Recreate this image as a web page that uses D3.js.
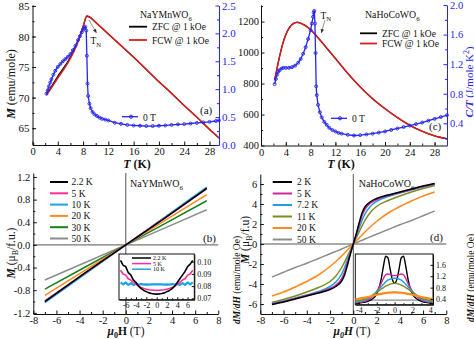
<!DOCTYPE html>
<html>
<head>
<meta charset="utf-8">
<script src="https://cdn.jsdelivr.net/npm/d3@7"></script>
<style>
	body { margin: 0; background: #fff; }
	svg { display: block; }
</style>
</head>
<body>
<svg id="fig" width="474" height="339"></svg>
<script>
// ---- (a) NaYMnWO6 : M(T) at 1 kOe and C/T at 0 T ----
const aTemp = [2.2, 3, 4, 5, 6, 7, 8, 8.6, 9, 10, 12, 14, 16, 18, 20, 22, 24, 26, 28, 29.5];
const aFcw = [70.4, 71.6, 73.2, 74.7, 76.4, 78.6, 81.6, 83.4, 83.2, 82.3, 80.4, 78.5, 76.6, 74.6, 72.6, 70.7, 68.7, 66.8, 64.8, 63.4];
const aZfc = [70.5, 71.8, 73.5, 75.0, 76.6, 78.7, 81.6, 83.3, 83.2, 82.3, 80.4, 78.5, 76.6, 74.6, 72.6, 70.7, 68.7, 66.8, 64.8, 63.4];
const aCpTemp = [2.2, 2.4, 2.6, 2.8, 3.0, 3.3, 3.6, 4.0, 4.4, 4.8, 5.2, 5.6, 6.0, 6.4, 6.8, 7.2, 7.5, 7.8, 8.0, 8.2,
	8.35, 8.5, 8.6, 8.7, 8.8, 9.0, 9.2, 9.5, 9.8, 10.2, 10.6, 11, 11.5, 12, 13, 14, 15, 16, 17, 18,
	19, 20, 21, 22, 23, 24, 25, 26, 27, 28, 29, 29.5];
const aCpT = [0.92, 0.98, 1.05, 1.12, 1.18, 1.26, 1.33, 1.40, 1.45, 1.50, 1.54, 1.58, 1.63, 1.70, 1.78, 1.88, 1.95, 2.02, 2.07, 2.10,
	2.12, 2.05, 1.60, 1.10, 0.88, 0.74, 0.66, 0.59, 0.55, 0.52, 0.49, 0.47, 0.455, 0.44, 0.40, 0.38, 0.36, 0.35, 0.345, 0.34,
	0.34, 0.345, 0.35, 0.36, 0.37, 0.375, 0.385, 0.395, 0.405, 0.415, 0.43, 0.44];

// ---- (c) NaHoCoWO6 ----
const cTemp = [2.2, 2.5, 3, 3.5, 4, 4.5, 5, 5.8, 6.5, 7, 8, 9, 10, 11, 12, 14, 16, 18, 20, 22, 24, 26, 28, 30];
const cFcw = [820, 880, 975, 1055, 1115, 1155, 1180, 1195, 1188, 1178, 1148, 1105, 1058, 1010, 962, 865, 778, 702, 638, 580, 530, 492, 462, 443];
const cZfc = [822, 882, 976, 1056, 1116, 1156, 1181, 1195, 1188, 1178, 1148, 1105, 1058, 1010, 962, 865, 778, 702, 638, 580, 530, 492, 462, 443];
const cCpTemp = [2.2, 2.4, 2.6, 2.8, 3.0, 3.3, 3.6, 4.0, 4.5, 5.0, 5.5, 6.0, 6.4, 6.8, 7.2, 7.6, 8.0, 8.2, 8.4, 8.5,
	8.6, 8.7, 8.8, 8.9, 9.0, 9.2, 9.5, 9.8, 10.2, 10.6, 11, 11.5, 12, 12.5, 13, 14, 15, 16, 17, 18,
	19, 20, 21, 22, 23, 24, 25, 26, 27, 28, 29, 30];
const cCpT = [0.93, 1.00, 1.06, 1.10, 1.12, 1.14, 1.15, 1.15, 1.15, 1.16, 1.18, 1.22, 1.27, 1.34, 1.43, 1.54, 1.66, 1.75, 1.84, 1.90,
	1.92, 1.75, 1.35, 0.90, 0.78, 0.65, 0.55, 0.48, 0.42, 0.38, 0.34, 0.31, 0.29, 0.27, 0.26, 0.245, 0.235, 0.24, 0.25, 0.26,
	0.275, 0.29, 0.31, 0.33, 0.35, 0.37, 0.39, 0.41, 0.435, 0.46, 0.485, 0.51];

// ---- (b) NaYMnWO6 : M(H) ----
const bLabels = ["2.2 K", "5 K", "10 K", "20 K", "30 K", "50 K"];
const bField = [-7, -3.5, 0, 3.5, 7];
const bMoment = [
	[-1.00, -0.49, 0, 0.49, 1.00],
	[-0.99, -0.495, 0, 0.495, 0.99],
	[-1.02, -0.51, 0, 0.51, 1.02],
	[-0.89, -0.445, 0, 0.445, 0.89],
	[-0.78, -0.39, 0, 0.39, 0.78],
	[-0.62, -0.31, 0, 0.31, 0.62],
];
// inset: dM/dH
const biLabels = ["2.2 K", "5 K", "10 K"];
const biField = [-7, -6.5, -6, -5.5, -5, -4.5, -4, -3.5, -3, -2.5, -2, -1.5, -1, -0.5, 0,
	0.5, 1, 1.5, 2, 2.5, 3, 3.5, 4, 4.5, 5, 5.5, 6, 6.5, 7];
const biDeriv = [
	[0.101, 0.097, 0.096, 0.091, 0.089, 0.085, 0.083, 0.080, 0.078, 0.0765, 0.0755, 0.0745, 0.074, 0.0737, 0.0735,
		0.0737, 0.074, 0.0745, 0.0755, 0.0765, 0.078, 0.080, 0.083, 0.086, 0.089, 0.092, 0.096, 0.098, 0.101],
	[0.093, 0.090, 0.089, 0.086, 0.085, 0.083, 0.0815, 0.080, 0.079, 0.078, 0.0775, 0.077, 0.0768, 0.0766, 0.0765,
		0.0766, 0.0768, 0.077, 0.0775, 0.078, 0.079, 0.080, 0.0815, 0.083, 0.085, 0.086, 0.089, 0.090, 0.093],
	[0.083, 0.0815, 0.083, 0.081, 0.0825, 0.081, 0.082, 0.0812, 0.0818, 0.0812, 0.0815, 0.0813, 0.0815, 0.0814, 0.0815,
		0.0814, 0.0815, 0.0813, 0.0815, 0.0812, 0.0818, 0.0812, 0.082, 0.081, 0.0825, 0.081, 0.083, 0.0815, 0.083],
];

// ---- (d) NaHoCoWO6 : M(H), positive branch (M is odd in H) ----
const dLabels = ["2 K", "5 K", "7.2 K", "11 K", "20 K", "50 K"];
const dField = [0, 0.25, 0.5, 0.75, 1, 1.5, 2, 3, 4, 5, 6, 7];
const dMoment = [
	[0, 1.0, 2.1, 3.1, 3.7, 4.25, 4.55, 4.9, 5.2, 5.5, 5.8, 6.05],
	[0, 0.9, 1.9, 2.8, 3.45, 4.1, 4.45, 4.85, 5.15, 5.45, 5.75, 6.0],
	[0, 0.75, 1.55, 2.35, 3.0, 3.8, 4.25, 4.75, 5.1, 5.4, 5.7, 5.95],
	[0, 0.6, 1.2, 1.8, 2.35, 3.2, 3.75, 4.35, 4.8, 5.2, 5.55, 5.85],
	[0, 0.3, 0.6, 0.9, 1.2, 1.75, 2.25, 3.1, 3.75, 4.3, 4.8, 5.2],
	[0, 0.12, 0.25, 0.37, 0.5, 0.74, 0.98, 1.45, 1.92, 2.35, 2.82, 3.3],
];
// inset: dM/dH, positive branch (even in H)
const diField = [0, 0.25, 0.5, 0.75, 1.0, 1.25, 1.5, 1.75, 2.0, 2.5, 3.0, 3.5, 4.0, 4.4];
const diDeriv = [
	[0.95, 1.08, 1.45, 1.85, 1.90, 1.55, 1.10, 0.78, 0.58, 0.40, 0.32, 0.28, 0.25, 0.24],
	[1.22, 1.23, 1.26, 1.28, 1.25, 1.12, 0.95, 0.80, 0.67, 0.48, 0.37, 0.31, 0.28, 0.27],
	[1.13, 1.12, 1.10, 1.06, 1.00, 0.92, 0.83, 0.74, 0.66, 0.51, 0.41, 0.34, 0.30, 0.29],
	[0.95, 0.94, 0.92, 0.89, 0.85, 0.80, 0.75, 0.69, 0.63, 0.53, 0.44, 0.38, 0.34, 0.32],
	[0.63, 0.63, 0.625, 0.62, 0.61, 0.60, 0.58, 0.57, 0.55, 0.51, 0.47, 0.44, 0.41, 0.40],
	[0.36, 0.36, 0.36, 0.36, 0.36, 0.36, 0.36, 0.36, 0.36, 0.36, 0.36, 0.36, 0.36, 0.36],
];

const BLUE = "#2626f0";
const RED = "#d91e1e";
const bColors = ["#000000", "#ff2b96", "#1aa3e8", "#ff8a1c", "#17801a", "#8c8c8c"];
const dColors = ["#000000", "#d0269f", "#1ea0e0", "#7d8c1a", "#ff8a1c", "#8c8c8c"];

const svg = d3.select("#fig")
	.attr("font-family", "'Liberation Serif', 'Times New Roman', serif");

// tspans with bold / italic / sub / sup flags
function rich(text, parts, size) {
	let shift = 0;
	for (const [t, flags = ""] of parts) {
		const f = flags.split(" ");
		const ts = text.append("tspan").text(t);
		let want = 0;
		if (f.includes("sub")) want = size * 0.3;
		if (f.includes("sup")) want = -size * 0.4;
		if (want !== shift) ts.attr("dy", want - shift);
		shift = want;
		if (f.includes("sub") || f.includes("sup")) ts.attr("font-size", size * 0.7);
		if (f.includes("b")) ts.attr("font-weight", "bold");
		if (f.includes("i")) ts.attr("font-style", "italic");
	}
	return text;
}

function label(x, y, parts, { size = 10, anchor = "start", rotate = 0, color = "#111" } = {}) {
	const t = svg.append("text")
		.attr("transform", `translate(${x},${y}) rotate(${rotate})`)
		.attr("text-anchor", anchor)
		.attr("font-size", size)
		.attr("fill", color);
	return rich(t, parts, size);
}

// axis with inward ticks, optional minor ticks
function axis(orient, scale, at, major, minor, fmt, o = {}) {
	const gen = { bottom: d3.axisBottom, left: d3.axisLeft, right: d3.axisRight, top: d3.axisTop }[orient];
	const horiz = orient === "bottom" || orient === "top";
	const color = o.color || "#111";
	const g = svg.append("g")
		.attr("transform", horiz ? `translate(0,${at})` : `translate(${at},0)`);
	if (minor) {
		g.append("g")
			.call(gen(scale).tickValues(minor).tickSize(-(o.minorLen ?? 2)).tickFormat(""))
			.call(s => s.select(".domain").remove());
	}
	g.append("g")
		.call(gen(scale).tickValues(major).tickSize(-(o.majorLen ?? 3.5)).tickSizeOuter(0)
			.tickPadding(o.pad ?? 3).tickFormat(fmt || (() => "")));
	g.selectAll("g").attr("font-family", null).attr("font-size", null);
	g.selectAll("line, path").attr("stroke", color).attr("stroke-width", o.width ?? 1);
	g.selectAll("text").attr("fill", color).attr("font-size", o.fs ?? 11);
	return g;
}

const range = (a, b, s) => d3.range(a, b + s / 2, s);
const fix = n => d => d.toFixed(n);

function linePath(xs, ys, sx, sy, color, width, curve = d3.curveMonotoneX) {
	const pts = xs.map((x, i) => [x, ys[i]]);
	return svg.append("path")
		.attr("d", d3.line().x(d => sx(d[0])).y(d => sy(d[1])).curve(curve)(pts))
		.attr("fill", "none")
		.attr("stroke", color)
		.attr("stroke-width", width)
		.attr("stroke-linejoin", "round");
}

function markerSeries(xs, ys, sx, sy) {
	linePath(xs, ys, sx, sy, BLUE, 1.3, d3.curveLinear);
	svg.append("g").selectAll("circle")
		.data(xs.map((x, i) => [x, ys[i]]))
		.join("circle")
		.attr("cx", d => sx(d[0]))
		.attr("cy", d => sy(d[1]))
		.attr("r", 1.5)
		.attr("fill", "none")
		.attr("stroke", BLUE)
		.attr("stroke-width", 0.9);
}

function legendLine(x1, x2, y, color, width = 1.8) {
	svg.append("line")
		.attr("x1", x1).attr("x2", x2).attr("y1", y).attr("y2", y)
		.attr("stroke", color).attr("stroke-width", width);
}

function arrow(x1, y1, x2, y2) {
	svg.append("line")
		.attr("x1", x1).attr("y1", y1).attr("x2", x2).attr("y2", y2)
		.attr("stroke", "#777").attr("stroke-width", 0.8);
	const ang = Math.atan2(y2 - y1, x2 - x1);
	const L = 4, W = 1.8;
	const p = [
		[x2, y2],
		[x2 - L * Math.cos(ang) + W * Math.sin(ang), y2 - L * Math.sin(ang) - W * Math.cos(ang)],
		[x2 - L * Math.cos(ang) - W * Math.sin(ang), y2 - L * Math.sin(ang) + W * Math.cos(ang)],
	];
	svg.append("path").attr("d", "M" + p.join("L") + "Z").attr("fill", "#333");
}

// odd / even mirror of a positive branch
const mirrorX = xs => xs.slice(1).reverse().map(v => -v).concat(xs);
const mirrorOdd = ys => ys.slice(1).reverse().map(v => -v).concat(ys);
const mirrorEven = ys => ys.slice(1).reverse().concat(ys);

// ================= panel (a) =================
{
	const x = d3.scaleLinear([0, 29.5], [32.5, 219]);
	const yL = d3.scaleLinear([62.25, 85.15], [145, 5]);
	const yR = d3.scaleLinear([0, 2.5], [145, 5.5]);

	linePath(aTemp, aZfc, x, yL, "#000", 1.2);
	linePath(aTemp, aFcw, x, yL, RED, 1.5);
	markerSeries(aCpTemp, aCpT, x, yR);

	axis("bottom", x, 145, range(0, 28, 4), range(2, 28, 4), d => d, { fs: 10.5 });
	axis("left", yL, 32.5, range(65, 85, 5), range(62.5, 85, 2.5), d => d, { fs: 11 });
	axis("right", yR, 219, range(0, 2.5, 0.5), range(0.25, 2.5, 0.5), fix(1), { color: BLUE, fs: 11 });

	label(140, 18, [["NaYMnWO"], ["6", "sub"]], { size: 9.8 });
	legendLine(129, 147, 26.7, "#000");
	label(152, 30.3, [["ZFC @ 1 kOe"]], { size: 9.5 });
	legendLine(129, 147, 40, RED);
	label(152, 43.5, [["FCW @ 1 kOe"]], { size: 9.5 });
	legendLine(122, 138, 116.7, BLUE, 1.3);
	svg.append("circle").attr("cx", 131).attr("cy", 116.7).attr("r", 1.6)
		.attr("fill", "none").attr("stroke", BLUE).attr("stroke-width", 1);
	label(143, 120.5, [["0 T"]], { size: 9.5 });
	label(200, 114, [["(a)"]], { size: 11 });

	arrow(88.7, 19.5, 96.5, 33);
	label(90.5, 44, [["T"], ["N", "sub"]], { size: 9.5 });

	label(137, 167.5, [["T", "b i"], [" (K)", "b"]], { size: 12, anchor: "middle" });
	label(15, 84, [["M", "b i"], [" (emu/mole)"]], { size: 12, anchor: "middle", rotate: -90 });
}

// ================= panel (c) =================
{
	const x = d3.scaleLinear([0, 30], [261, 447]);
	const yL = d3.scaleLinear([400, 1307], [145.5, 5]);
	const yR = d3.scaleLinear([0.1, 2.0], [145.5, 5]);

	linePath(cTemp, cZfc, x, yL, "#000", 1.2);
	linePath(cTemp, cFcw, x, yL, RED, 1.5);
	markerSeries(cCpTemp, cCpT, x, yR);

	axis("bottom", x, 145.5, range(0, 28, 4), range(2, 30, 2), d => d, { fs: 10.5 });
	axis("left", yL, 261, range(400, 1200, 200), range(500, 1300, 200), d => d, { fs: 10.5, pad: 2 });
	axis("right", yR, 447, range(0.4, 2.0, 0.4), range(0.2, 1.8, 0.4), fix(1), { color: BLUE, fs: 10.5 });

	label(365, 18, [["NaHoCoWO"], ["6", "sub"]], { size: 9.8 });
	legendLine(360, 377, 33.3, "#000");
	label(382, 37, [["ZFC @ 1  kOe"]], { size: 9.5 });
	legendLine(360, 377, 43.5, RED);
	label(382, 47.3, [["FCW @ 1 kOe"]], { size: 9.5 });
	legendLine(331, 347, 118.3, BLUE, 1.3);
	svg.append("circle").attr("cx", 340).attr("cy", 118.3).attr("r", 1.6)
		.attr("fill", "none").attr("stroke", BLUE).attr("stroke-width", 1);
	label(352, 122, [["0 T"]], { size: 9.5 });
	label(429, 130, [["(c)"]], { size: 11 });

	arrow(324.8, 20.5, 321.3, 33);
	label(320.5, 18.5, [["T"], ["N", "sub"]], { size: 9.5 });

	label(341, 168, [["T", "b i"], [" (K)", "b"]], { size: 12, anchor: "middle" });
	label(473, 82, [["C/T", "b i"], [" (J/mole K"], ["2", "sup"], [")"]],
		{ size: 11, anchor: "middle", rotate: -90, color: BLUE });
}

// ================= panel (b) =================
{
	const x = d3.scaleLinear([-8, 8], [33.3, 218.3]);
	const y = d3.scaleLinear([-1.22, 1.27], [314, 173]);

	svg.append("line").attr("x1", x(0)).attr("x2", x(0)).attr("y1", 173).attr("y2", 314)
		.attr("stroke", "#555").attr("stroke-width", 1);
	svg.append("line").attr("x1", x(-8)).attr("x2", x(8)).attr("y1", y(0)).attr("y2", y(0))
		.attr("stroke", "#555").attr("stroke-width", 1);

	for (let i = bMoment.length - 1; i >= 0; --i) {
		linePath(bField, bMoment[i], x, y, bColors[i], 1.5, d3.curveLinear);
	}

	axis("bottom", x, 314, range(-8, 8, 2), range(-7, 7, 2), d => d, { fs: 10.5 });
	axis("left", y, 33.3, range(-1.2, 1.2, 0.4), range(-1.0, 1.0, 0.4), fix(1), { fs: 10.5 });

	bLabels.forEach((t, i) => {
		const yy = 182 + i * 11.3;
		legendLine(50, 68, yy, bColors[i], 2);
		label(71.5, yy + 3.3, [[t]], { size: 9.5 });
	});
	label(130, 187, [["NaYMnWO"], ["6", "sub"]], { size: 10 });
	label(203, 242, [["(b)"]], { size: 11 });

	// inset
	const ix = d3.scaleLinear([-7.3, 7.3], [119, 194.3]);
	const iy = d3.scaleLinear([0.0689, 0.1063], [299.7, 254]);
	svg.append("rect").attr("x", 119).attr("y", 254).attr("width", 75.3).attr("height", 45.7)
		.attr("fill", "#fff").attr("stroke", "#111").attr("stroke-width", 1);
	for (let i = biDeriv.length - 1; i >= 0; --i) {
		linePath(biField, biDeriv[i], ix, iy, bColors[i], i === 2 ? 2.2 : 1.6, d3.curveLinear);
	}
	axis("bottom", ix, 299.7, range(-6, 6, 2), range(-5, 5, 2), d => d, { fs: 8, pad: 2.5, majorLen: 2.5, minorLen: 1.5 });
	axis("right", iy, 194.3, range(0.07, 0.10, 0.01), null, fix(2), { fs: 8, pad: 3, majorLen: 2.5 });
	biLabels.forEach((t, i) => {
		const yy = 258 + i * 5.6;
		legendLine(132, 151, yy, bColors[i], 1.5);
		label(153, yy + 2, [[t]], { size: 6 });
	});

	label(126, 335, [["μ", "b i"], ["0", "sub b"], ["H", "b"], [" (T)"]], { size: 11.5, anchor: "middle" });
	label(15, 253, [["M", "b i"], [" ("], ["μ"], ["B", "sub"], ["/f.u.)"]], { size: 11.5, anchor: "middle", rotate: -90 });
	label(240, 280, [["dM/dH", "b i"], [" (emu/mole Oe)"]], { size: 9.5, anchor: "middle", rotate: -90 });
}

// ================= panel (d) =================
{
	const x = d3.scaleLinear([-8, 8], [260.3, 446.3]);
	const y = d3.scaleLinear([-7, 7], [314, 174]);

	svg.append("line").attr("x1", x(0)).attr("x2", x(0)).attr("y1", 174).attr("y2", 314)
		.attr("stroke", "#555").attr("stroke-width", 1);
	svg.append("line").attr("x1", x(-8)).attr("x2", x(8)).attr("y1", y(0)).attr("y2", y(0))
		.attr("stroke", "#555").attr("stroke-width", 1);

	const fullField = mirrorX(dField);
	for (let i = dMoment.length - 1; i >= 0; --i) {
		linePath(fullField, mirrorOdd(dMoment[i]), x, y, dColors[i], 1.5);
	}

	axis("bottom", x, 314, range(-8, 8, 2), range(-7, 7, 2), d => d, { fs: 10.5 });
	axis("left", y, 260.3, range(-6, 6, 2), range(-5, 5, 2), d => d, { fs: 10.5 });

	dLabels.forEach((t, i) => {
		const yy = 182 + i * 11.5;
		legendLine(272.7, 292, yy, dColors[i], 2);
		label(297, yy + 3.3, [[t]], { size: 9.5 });
	});
	label(358.7, 187, [["NaHoCoWO"], ["6", "sub"]], { size: 10 });
	label(430, 241, [["(d)"]], { size: 11 });

	// inset, curves clipped to its frame
	const ix = d3.scaleLinear([-4.4, 4.3], [355.3, 433]);
	const iy = d3.scaleLinear([0.2, 1.98], [304.7, 254]);
	svg.append("rect").attr("x", 355.3).attr("y", 254).attr("width", 77.7).attr("height", 50.7)
		.attr("fill", "#fff").attr("stroke", "#111").attr("stroke-width", 1);
	svg.append("clipPath").attr("id", "dclip").append("rect")
		.attr("x", 355.3).attr("y", 254).attr("width", 77.7).attr("height", 50.7);
	const inField = mirrorX(diField);
	for (const i of [5, 0, 1, 2, 3, 4]) {
		linePath(inField, mirrorEven(diDeriv[i]), ix, iy, dColors[i], i === 4 ? 2.2 : 1.4)
			.attr("clip-path", "url(#dclip)");
	}
	axis("bottom", ix, 304.7, range(-4, 4, 2), range(-3, 3, 2), d => d, { fs: 8, pad: 2.5, majorLen: 2.5, minorLen: 1.5 });
	axis("right", iy, 433, range(0.4, 1.6, 0.4), null, fix(1), { fs: 8, pad: 3, majorLen: 2.5 });

	label(352, 335, [["μ", "b i"], ["0", "sub b i"], ["H", "b i"], [" (T)"]], { size: 11.5, anchor: "middle" });
	label(249, 240, [["M", "b i"], [" ("], ["μ"], ["B", "sub"], ["/f.u)"]], { size: 11.5, anchor: "middle", rotate: -90 });
	label(473.5, 278, [["dM/dH", "b i"], [" (emu/mole Oe)"]], { size: 9.5, anchor: "middle", rotate: -90 });
}
</script>
</body>
</html>
